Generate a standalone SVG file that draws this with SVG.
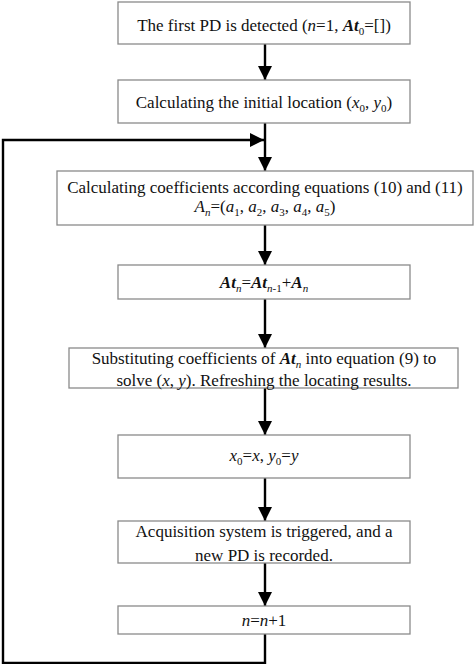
<svg xmlns="http://www.w3.org/2000/svg" width="474" height="664" viewBox="0 0 474 664">
<defs>
<marker id="ah" markerUnits="userSpaceOnUse" markerWidth="14" markerHeight="16" viewBox="0 0 14 16" refX="14" refY="8" orient="auto">
<path d="M0,1 L14,8 L0,15 Z" fill="#000"/>
</marker>
</defs>
<style>
.box{fill:#fff;stroke:#8a8a8a;stroke-width:1.3}
.t{font-family:'Liberation Serif','DejaVu Serif',serif;font-size:17px;fill:#111;text-anchor:middle}
.i{font-style:italic}
.b{font-weight:bold;font-style:italic}
.s{font-size:11px}
.c{fill:none;stroke:#000;stroke-width:2.4}
</style>
<rect width="474" height="664" fill="#fff"/>
<g id="connectors">
<line class="c" x1="265" y1="44" x2="265" y2="80" marker-end="url(#ah)"/>
<line class="c" x1="265" y1="123" x2="265" y2="171" marker-end="url(#ah)"/>
<polyline class="c" points="265,634 265,663 3,663 3,140 264,140" stroke-width="3" marker-end="url(#ah)"/>
<line class="c" x1="265" y1="225" x2="265" y2="265" marker-end="url(#ah)"/>
<line class="c" x1="265" y1="299" x2="265" y2="348" marker-end="url(#ah)"/>
<line class="c" x1="265" y1="388" x2="265" y2="435" marker-end="url(#ah)"/>
<line class="c" x1="265" y1="478" x2="265" y2="521" marker-end="url(#ah)"/>
<line class="c" x1="265" y1="563" x2="265" y2="606" marker-end="url(#ah)"/>
</g>
<g id="n1">
<rect class="box" x="118" y="2" width="292" height="42"/>
<text class="t" x="264" y="31" font-family="Liberation Serif, serif">The first PD is detected (<tspan class="i">n</tspan>=1, <tspan class="b">At</tspan><tspan class="s" dy="4">0</tspan><tspan dy="-4">=[])</tspan></text>
</g>
<g id="n2">
<rect class="box" x="118" y="80" width="292" height="43"/>
<text class="t" x="264" y="108">Calculating the initial location (<tspan class="i">x</tspan><tspan class="s" dy="4">0</tspan><tspan dy="-4">, </tspan><tspan class="i">y</tspan><tspan class="s" dy="4">0</tspan><tspan dy="-4">)</tspan></text>
</g>
<g id="n3">
<rect class="box" x="57" y="171" width="416" height="54"/>
<text class="t" x="265" y="193">Calculating coefficients according equations (10) and (11)</text>
<text class="t" x="265" y="212"><tspan class="i">A</tspan><tspan class="s i" dy="4">n</tspan><tspan dy="-4">=(</tspan><tspan class="i">a</tspan><tspan class="s" dy="4">1</tspan><tspan dy="-4">, </tspan><tspan class="i">a</tspan><tspan class="s" dy="4">2</tspan><tspan dy="-4">, </tspan><tspan class="i">a</tspan><tspan class="s" dy="4">3</tspan><tspan dy="-4">, </tspan><tspan class="i">a</tspan><tspan class="s" dy="4">4</tspan><tspan dy="-4">, </tspan><tspan class="i">a</tspan><tspan class="s" dy="4">5</tspan><tspan dy="-4">)</tspan></text>
</g>
<g id="n4">
<rect class="box" x="118" y="265" width="292" height="34"/>
<text class="t" x="264" y="288"><tspan class="b">At</tspan><tspan class="s i" dy="4">n</tspan><tspan dy="-4">=</tspan><tspan class="b">At</tspan><tspan class="s i" dy="4">n</tspan><tspan class="s">-1</tspan><tspan dy="-4">+</tspan><tspan class="b">A</tspan><tspan class="s i" dy="4">n</tspan></text>
</g>
<g id="n5">
<rect class="box" x="69" y="348" width="389" height="40"/>
<text class="t" x="264" y="364">Substituting coefficients of <tspan class="b">At</tspan><tspan class="s i" dy="4">n</tspan><tspan dy="-4"> into equation (9) to</tspan></text>
<text class="t" x="264" y="386">solve (<tspan class="i">x</tspan>, <tspan class="i">y</tspan>). Refreshing the locating results.</text>
</g>
<g id="n6">
<rect class="box" x="118" y="435" width="292" height="43"/>
<text class="t" x="264" y="461"><tspan class="i">x</tspan><tspan class="s" dy="4">0</tspan><tspan dy="-4">=</tspan><tspan class="i">x</tspan>, <tspan class="i">y</tspan><tspan class="s" dy="4">0</tspan><tspan dy="-4">=</tspan><tspan class="i">y</tspan></text>
</g>
<g id="n7">
<rect class="box" x="118" y="521" width="292" height="42"/>
<text class="t" x="264" y="537">Acquisition system is triggered, and a</text>
<text class="t" x="264" y="561">new PD is recorded.</text>
</g>
<g id="n8">
<rect class="box" x="118" y="606" width="292" height="28"/>
<text class="t" x="264" y="626"><tspan class="i">n</tspan>=<tspan class="i">n</tspan>+1</text>
</g>
</svg>
